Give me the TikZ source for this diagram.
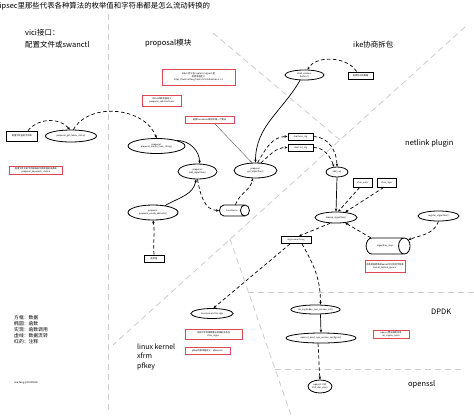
\documentclass[tikz,border=0pt]{standalone}
\usepackage{fontspec}
\setmainfont{Noto Sans CJK SC}
\usetikzlibrary{arrows.meta,shapes.geometric}
\definecolor{notered}{RGB}{222,72,86}
\def\tinyfont{\fontsize{2.2}{2.7}\selectfont}
\tikzset{
	zone/.style={gray!40, line width=0.8pt, dash pattern=on 6pt off 4pt},
	region/.style={anchor=base west, inner sep=0pt, align=left, font=\fontsize{7.5}{12}\selectfont},
	func/.style={ellipse, draw, line width=0.8pt, inner sep=0pt, align=center, font=\tinyfont},
	datum/.style={rectangle, draw, line width=0.9pt, inner sep=0.5pt, align=center, font=\tinyfont},
	note/.style={rectangle, draw=notered, line width=0.8pt, inner sep=0.5pt, align=center, font=\tinyfont},
	store/.style={cylinder, shape border rotate=0, draw, line width=0.8pt, inner sep=0pt, aspect=5, font=\tinyfont},
	flow/.style={line width=0.7pt, dash pattern=on 3.5pt off 2.5pt, -{Stealth[length=3pt,width=2.5pt]}},
	call/.style={line width=0.7pt, -{Stealth[length=3pt,width=2.5pt]}},
}

\begin{document}
\begin{tikzpicture}[x=1pt, y=-1pt]
		%%%%% START %%%%%
		\useasboundingbox (0,0) rectangle (474,418);
		
		\draw[zone] (108,14) -- (108,410);
		\draw[zone] (213,33) -- (340,140);
		\draw[zone] (465,27) -- (113,345);
		\draw[zone] (230,239) -- (291,415);
		\draw[zone] (248,292) -- (474,292);
		\draw[zone] (275,369) -- (462,369);
		
		\node[anchor=west, inner sep=0pt, font=\fontsize{7.4}{9}\selectfont] (title) at (-0.5,6) {ipsec里那些代表各种算法的枚举值和字符串都是怎么流动转换的};
		
		\node[region] (vici) at (25,47.5) {vici接口：\\配置文件或swanctl};
		\node[region] (prop) at (145,45.5) {proposal模块};
		\node[region] (ike) at (353,47.5) {ike协商拆包};
		\node[region] (netlink) at (405,145.5) {netlink plugin};
		\node[region] (dpdk) at (431,314) {DPDK};
		\node[region] (ossl) at (408,386.5) {openssl};
		\node[region, font=\fontsize{7}{9.5}\selectfont] (kernel) at (137,368) {linux kernel\\xfrm\\pfkey};
		
		\node[anchor=base west, inner sep=0pt, align=left, font=\fontsize{4.8}{6}\selectfont] (legend) at (14,343) {方框：数据\\椭圆：函数\\实现：函数调用\\虚线：数据流转\\红的：注释};
		\node[anchor=west, inner sep=0pt, font=\fontsize{2.4}{3}\selectfont] (credit) at (14,383) {Lee Tong @20190508};
		
		% vici
		\node[datum, minimum width=31, minimum height=10] (cfgstr) at (22,136) {配置文件里的字符串};
		\node[func, minimum width=51, minimum height=12] (gettoken) at (71,136) {proposal\_get\_token\_static()};
		\node[note, minimum width=53, minimum height=8] (kwnote) at (36,170) {配置文件中的字符串映射到枚举值的函数表\\proposal\_keywords\_static.c};
		
		% proposal
		\node[note, minimum width=73, minimum height=16] (rfcnote) at (198.5,77) {IKEv2 定义在crypter.h/signer.h里\\的枚举值定义\\https://tools.ietf.org/html/rfc7296\#section-3.3.2};
		\node[note, minimum width=39, minimum height=11] (ikev1note) at (162,100.5) {IKEv1的枚举值定义\\proposal\_substructure.c};
		\node[func, minimum width=57, minimum height=15] (fromstr) at (156.5,146) {proposal:\\proposal\_create\_from\_string()};
		\node[note, minimum width=49, minimum height=7] (retnote) at (209.5,119.5) {返回transforms数组中第一个算法};
		\node[func, minimum width=39, minimum height=15] (addalg) at (197.5,171.5) {proposal:\\add\_algorithm()};
		\node[func, minimum width=43, minimum height=15] (getalg) at (255.5,170.5) {proposal:\\get\_algorithm()};
		\node[func, minimum width=50, minimum height=15] (defaults) at (153,212.5) {proposal:\\proposal\_create\_defaults()};
		\node[datum, minimum width=20, minimum height=7] (enumval) at (154,258.5) {枚举值};
		\node[store, minimum width=11, minimum height=30] (transforms) at (232,210.5) {transforms};
		
		% ike
		\node[func, minimum width=39, minimum height=10] (childbuild) at (304.5,75) {child\_create.c:\\build\_i()};
		\node[datum, minimum width=25, minimum height=7] (ikepkt) at (360.5,75.5) {协商包中的数据};
		\node[datum, minimum width=25, minimum height=7] (encalg) at (300.5,136.5) {short enc\_alg};
		\node[datum, minimum width=25, minimum height=7] (intalg) at (300.5,147.5) {short int\_alg};
		\node[func, minimum width=22, minimum height=10] (addsa) at (337,172) {add\_sa()};
		
		% netlink
		\node[datum, minimum width=19, minimum height=9] (xauth) at (362.5,182.5) {xfrm\_auth};
		\node[datum, minimum width=19, minimum height=9] (xalgo) at (386.5,182.5) {xfrm\_algo};
		\node[func, minimum width=42, minimum height=11] (lookup) at (336,217.5) {lookup\_algorithm()};
		\node[func, minimum width=41, minimum height=10] (register) at (438.5,216) {register\_algorithm()};
		\node[store, minimum width=16, minimum height=44] (algmap) at (385,246) {algorithm\_map};
		\node[note, minimum width=40, minimum height=12] (mapnote) at (385,266) {将枚举值转换成kernel可识别的字符串\\kernel\_netlink\_ipsec.c};
		\node[datum, minimum width=30, minimum height=7] (namestr) at (296,240) {algo name string};
		
		% kernel
		\node[func, minimum width=42, minimum height=10] (xfrmalgo) at (212,313.5) {linux kernel xfrm algo};
		\node[note, minimum width=57, minimum height=10] (kernnote) at (213.5,334) {内核中字符串和算法的映射关系在\\xfrm\_algo.c};
		\node[note, minimum width=45, minimum height=7] (pfkeynote) at (207.5,350.5) {pfkey的枚举值定义：pfkeyv2.h};
		
		% dpdk / openssl
		\node[func, minimum width=49, minimum height=9] (rtesess) at (315.5,309.5) {rte\_cryptodev\_sym\_session\_init()};
		\node[func, minimum width=70, minimum height=10] (opensslcfg) at (321,338) {openssl\_pmd\_sym\_session\_configure()};
		\node[func, minimum width=24, minimum height=13] (evp) at (320,386.5) {openssl: EVP\\EVP\_des\_cbc()};
		\node[note, minimum width=36, minimum height=8] (dpdknote) at (391,334) {openssl算法映射关系\\rte\_crypto\_sym.h};
		
		% connectors
		\draw[flow] ([xshift=6pt]cfgstr.north) to[out=50,in=130] (gettoken.100);
		\draw[flow] (gettoken.70) to[out=60,in=110] (fromstr.north);
		\draw[line width=0.4pt, gray!70!black, -{Stealth[length=2.5pt,width=2pt]}] ([xshift=5pt]retnote.south) -- (getalg.115);
		\draw[call] (fromstr.15) to[out=0,in=90] (addalg.75);
		\draw[call] (defaults.30) to[out=30,in=260] (addalg.260);
		\draw[flow] (addalg.south) to[out=-80,in=180] (transforms.west);
		\draw[flow] (transforms.60) to[out=70,in=-100] (getalg.250);
		\draw[flow] (enumval.north) to[out=95,in=-80] (defaults.south);
		
		\draw[flow] ([xshift=-4pt]ikepkt.north) to[out=120,in=60, looseness=0.9] (childbuild.60);
		\draw[call] (childbuild.230) to[out=240,in=90] (getalg.north);
		\draw[flow] (getalg.75) to[out=60,in=180] (encalg.west);
		\draw[flow] (getalg.55) to[out=40,in=180] (intalg.west);
		\draw[flow] (encalg.east) to[out=0,in=90] (addsa.north);
		\draw[flow] (intalg.east) to[out=0,in=110] (addsa.120);
		
		\draw[call] (addsa.south) -- (lookup.north);
		\draw[flow] (xauth.240) -- (lookup.70);
		\draw[flow] (xalgo.240) -- (lookup.30);
		\draw[flow] (algmap.150) -- (lookup.-30);
		\draw[flow] (register.south) to[out=-110,in=20] (algmap.15);
		\draw[flow] (lookup.225) -- ([xshift=3pt]namestr.north);
		\draw[flow] ([xshift=-6pt]namestr.south) -- (xfrmalgo.75);
		\draw[flow] ([xshift=6pt]namestr.south) to[out=-60,in=90] ([xshift=5pt]rtesess.north);
		
		\draw[call] ([xshift=5pt]rtesess.south) -- (opensslcfg.north);
		\draw[flow] ([xshift=-3pt]opensslcfg.south) to[out=-85,in=95] (evp.north);
		
		%%%%% END %%%%%
\end{tikzpicture}
\end{document}
